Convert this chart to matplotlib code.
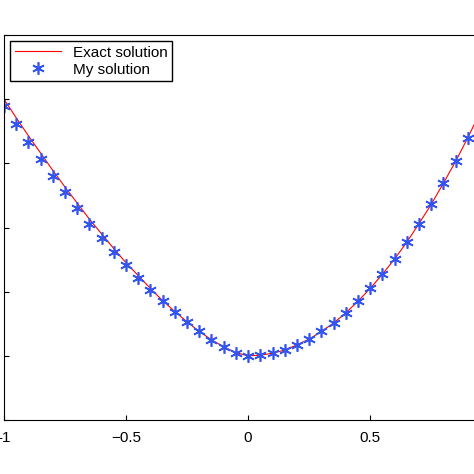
import numpy as np
from matplotlib import pyplot as plt

plt.rcParams['font.family'] = ['Liberation Sans', 'DejaVu Sans']

x = np.round(np.arange(-1, 1.0001, 0.05), 2)
exact = [5.00, 4.71, 4.43, 4.16, 3.89, 3.63, 3.38, 3.13, 2.90, 2.67, 2.45,
         2.25, 2.05, 1.86, 1.69, 1.53, 1.38, 1.25, 1.14, 1.05, 1.00,
         1.01, 1.04, 1.09, 1.17, 1.26, 1.38, 1.51, 1.67, 1.85, 2.05,
         2.27, 2.51, 2.77, 3.06, 3.36, 3.69, 4.03, 4.40, 4.79, 5.20]
mine = [4.90, 4.61, 4.33, 4.06, 3.80, 3.55, 3.30, 3.06, 2.84, 2.62, 2.41,
        2.22, 2.03, 1.85, 1.68, 1.52, 1.38, 1.25, 1.14, 1.05, 1.00,
        1.01, 1.04, 1.09, 1.17, 1.26, 1.38, 1.51, 1.67, 1.85, 2.05,
        2.27, 2.51, 2.77, 3.06, 3.36, 3.69, 4.03, 4.40, 4.79, 5.20]

fig = plt.figure(figsize=(4.74, 4.74), dpi=100)
ax = fig.add_axes([4/474, 54/474, 1.03, 385/474])
ax.plot(x, exact, color='red', lw=0.8, label='Exact solution')
ax.plot(x, mine, marker=(6, 2, 0), color='#3355ee', ms=9, mew=1.2,
        linestyle='none', label='My solution')
ax.set_xlim(-1, 1)
ax.set_ylim(0, 6)
ax.set_xticks([-1, -0.5, 0, 0.5, 1])
ax.set_xticklabels(['-1', '\u22120.5', '0', '0.5', '1'])
ax.set_yticks(range(0, 7))
ax.set_yticklabels([])
ax.tick_params(direction='in', labelsize=11, pad=8)
ax.legend(loc='upper left', fancybox=False, edgecolor='black', framealpha=1,
          borderaxespad=0.4, handlelength=3, fontsize=11, borderpad=0.3,
          labelspacing=0.2)
fig.savefig('out.png', dpi=100)
